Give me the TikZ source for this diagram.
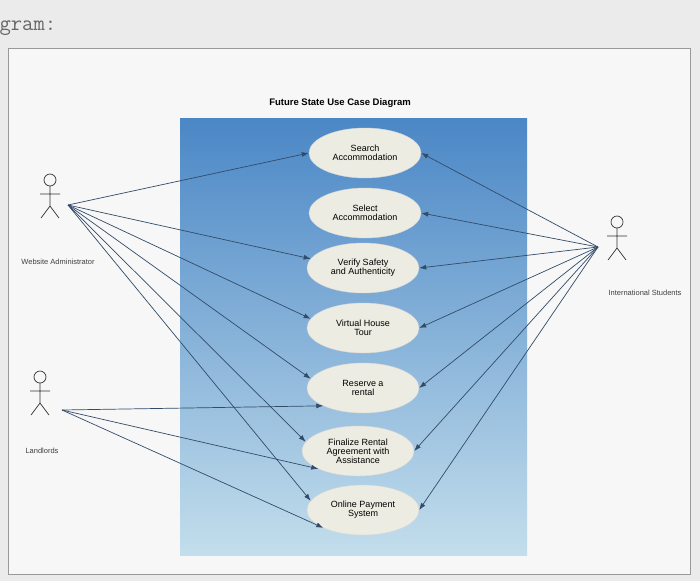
\documentclass[tikz,border=0pt]{standalone}
\usepackage{fontspec}
\setmainfont{Liberation Sans}
\usetikzlibrary{arrows.meta,shapes.geometric}
\definecolor{bgtop}{RGB}{75,135,198}
\definecolor{bgbot}{RGB}{195,222,236}
\definecolor{ucfill}{RGB}{236,236,226}
\definecolor{lnc}{RGB}{50,75,105}
\begin{document}
\begin{tikzpicture}[x=1pt,y=-1pt,
 uc/.style={ellipse,draw=white!70!gray,fill=ucfill,minimum width=112pt,minimum height=50pt,align=center,font=\fontsize{9}{9}\selectfont,inner sep=0pt},
 con/.style={draw=lnc,line width=0.7pt,-{Latex[length=7pt,width=5pt]}},
 lbl/.style={font=\fontsize{7.5}{8}\selectfont,text=black!75}]
\useasboundingbox (0,0) rectangle (700,581);
\fill[black!8] (0,0) rectangle (700,581);
\node[font=\fontsize{22}{22}\selectfont\ttfamily,text=black!60,anchor=west] (g) at (-4,28) {gram:};
\draw[black!40,fill=black!3] (8,48) rectangle (690,574);
\shade[top color=bgtop,bottom color=bgbot] (180,118) rectangle (527,555);
\node[font=\bfseries\fontsize{9.5}{10}\selectfont] (t) at (340,103) {Future State Use Case Diagram};
\node[uc] (u1) at (365,153) {Search\\Accommodation};
\node[uc] (u2) at (365,213) {Select\\Accommodation};
\node[uc] (u3) at (363,268) {Verify Safety\\and Authenticity};
\node[uc] (u4) at (363,328) {Virtual House\\Tour};
\node[uc] (u5) at (363,388) {Reserve a\\rental};
\node[uc] (u6) at (358,451) {Finalize Rental\\Agreement with\\Assistance};
\node[uc] (u7) at (363,510) {Online Payment\\System};
\foreach \n/\x/\y in {wa/50/180,is/617/222,ll/40/377}{
 \draw[black!80,line width=0.7pt] (\x,\y) circle (6);
 \draw[black!80,line width=0.7pt] (\x,\y+6) -- (\x,\y+26) (\x-10,\y+14) -- (\x+10,\y+14) (\x-9,\y+38) -- (\x,\y+26) -- (\x+9,\y+38);
}
\coordinate (wa) at (68,205);
\coordinate (is) at (598,247);
\coordinate (ll) at (62,410);
\node[lbl] (wal) at (58,262) {Website Administrator};
\node[lbl] (isl) at (645,293) {International Students};
\node[lbl] (lll) at (42,451) {Landlords};
\draw[con] (wa) -- (u1.west);
\foreach \u in {u3,u4,u5,u6,u7}{\draw[con] (wa) -- (\u.170);}
\foreach \u in {u1,u2,u3,u4,u5,u6,u7}{\draw[con] (is) -- (\u.east);}
\draw[con] (ll) -- (u5.south west);
\draw[con] (ll) -- (u6.south west);
\draw[con] (ll) -- (u7.south west);
\end{tikzpicture}
\end{document}
